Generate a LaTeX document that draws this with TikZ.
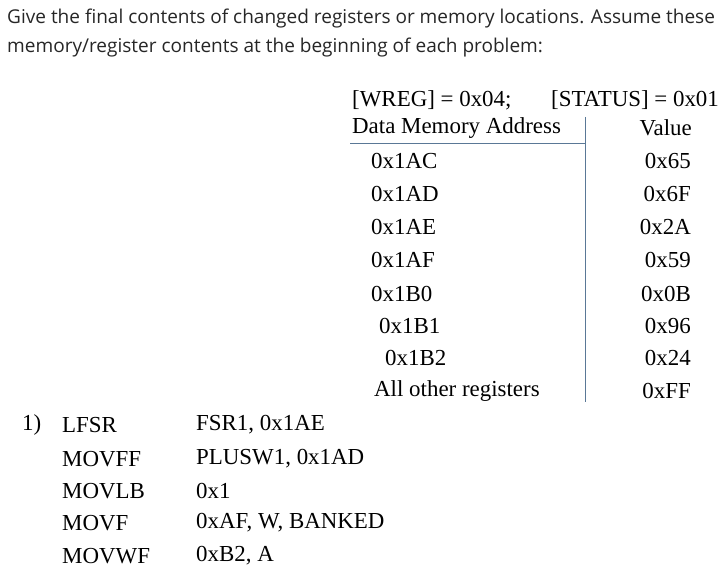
\documentclass[tikz,border=0pt]{standalone}
\usepackage{fontspec}
\setmainfont{Liberation Serif}
\newfontfamily\osans{Open Sans}
\definecolor{rule}{RGB}{90,120,150}
\begin{document}
\begin{tikzpicture}[x=1bp,y=-1bp,
  ser/.style={inner sep=0pt,font=\fontsize{23}{26}\selectfont},
  sw/.style={ser,anchor=west},
  se/.style={ser,anchor=east},
  top/.style={inner sep=0pt,anchor=west,font=\osans\fontsize{19.1}{22}\selectfont,text=black!85}]
\useasboundingbox (0,0) rectangle (725,567);
\node[top] (t1) at (7,19) {Give the final contents of changed registers or memory locations. Assume these};
\node[top] (t2) at (7,48) {memory/register contents at the beginning of each problem:};
\node[sw] (w) at (352,100) {[WREG] = 0x04;};
\node[sw] (s) at (551,100) {[STATUS] = 0x01};
\node[sw] (h1) at (352,128) {Data Memory Address};
\node[se] (h2) at (692,128) {Value};
\coordinate (hl) at (350,143); \coordinate (hr) at (585,143);
\draw[rule,line width=1pt] (hl) -- (hr);
\coordinate (vt) at (585,117); \coordinate (vb) at (585,402);
\draw[rule,line width=0.8pt] (vt) -- (vb);
\foreach \a/\v/\x/\y [count=\i] in {0x1AC/0x65/371/161,0x1AD/0x6F/371/194,0x1AE/0x2A/371/227,0x1AF/0x59/371/260,0x1B0/0x0B/371/294,0x1B1/0x96/379/326,0x1B2/0x24/385/358,All other registers/0xFF/374/391}{
  \node[sw] (a\i) at (\x,\y) {\a};
  \node[se] (v\i) at (691,\y) {\v};
}
\node[sw] (n) at (22,425) {1)};
\foreach \o/\p/\y [count=\i] in {LFSR/{FSR1, 0x1AE}/425,MOVFF/{PLUSW1, 0x1AD}/459,MOVLB/0x1/491,MOVF/{0xAF, W, BANKED}/523,MOVWF/{0xB2, A}/556}{
  \node[sw] (o\i) at (62,\y) {\o};
  \node[sw] (p\i) at (196,\y) {\p};
}
\end{tikzpicture}
\end{document}
